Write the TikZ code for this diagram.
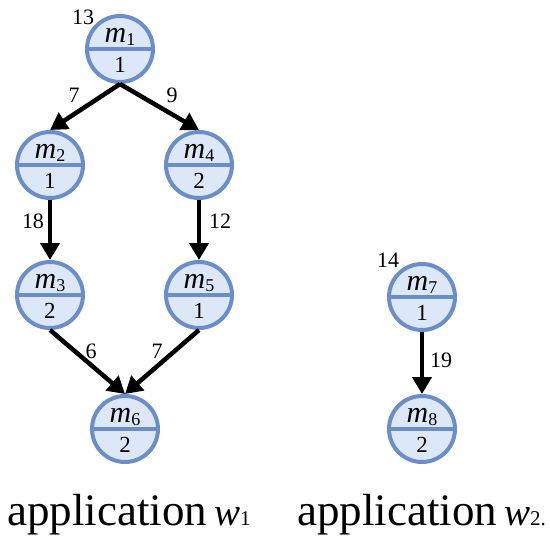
\documentclass[tikz,border=0pt]{standalone}
\usepackage{fontspec}
\setmainfont{Liberation Serif}
\usetikzlibrary{arrows.meta}
\definecolor{nodeline}{RGB}{108,142,200}
\definecolor{nodefill}{RGB}{220,231,247}
\tikzset{
  task/.style={circle, draw=nodeline, fill=nodefill, line width=4pt, minimum size=66pt, inner sep=0pt},
  divider/.style={draw=nodeline, line width=4pt},
  namelbl/.style={font=\fontsize{30}{30}\selectfont, inner sep=0pt, anchor=base},
  numlbl/.style={font=\fontsize{23}{23}\selectfont, inner sep=0pt, anchor=base},
  wlbl/.style={font=\fontsize{22}{22}\selectfont, inner sep=0pt},
  dep/.style={line width=4.5pt, -{Triangle[length=17pt,width=19pt]}},
  caption/.style={font=\fontsize{45}{45}\selectfont, inner sep=0pt, anchor=base west},
}
\newcommand\appw[1]{application\hspace{7pt}{\fontsize{39}{39}\selectfont\itshape w}{\fontsize{21}{21}\selectfont #1}}
\begin{document}
\begin{tikzpicture}[x=1pt,y=-1pt]
\useasboundingbox (0,0) rectangle (550,547);
\foreach \n/\x/\y/\w in {1/120/49/1, 2/50/165/1, 4/199/165/2, 3/50/295/2, 5/199/295/1, 6/125/429/2, 7/422/297/1, 8/422/429/2}{
  \node[task] (m\n) at (\x,\y) {};
  \draw[divider] (m\n.west) -- (m\n.east);
  \node[namelbl] (m\n name) at ([yshift=7pt]m\n.center) {\itshape m\raisebox{-3pt}{\fontsize{18}{18}\selectfont\upshape\n}};
  \node[numlbl] (m\n num) at ([yshift=-23pt]m\n.center) {\w};
}
\draw[dep] (m1.south) -- (m2.north);
\draw[dep] (m1.south) -- (m4.north);
\draw[dep] (m2.south) -- (m3.north);
\draw[dep] (m4.south) -- (m5.north);
\draw[dep] (m3.south) -- (m6.north);
\draw[dep] (m5.south) -- (m6.north);
\draw[dep] (m7.south) -- (m8.north);
\node[wlbl] (w1) at (83,17) {13};
\node[wlbl] (w12) at (74,95) {7};
\node[wlbl] (w14) at (172,95) {9};
\node[wlbl] (w23) at (33,221) {18};
\node[wlbl] (w45) at (220,221) {12};
\node[wlbl] (w36) at (91,351) {6};
\node[wlbl] (w56) at (157,351) {7};
\node[wlbl] (w7) at (388,260) {14};
\node[wlbl] (w78) at (441,360) {19};
\node[caption] (c1) at (7,525) {\appw{1}};
\node[caption] (c2) at (297,525) {\appw{2.}};
\end{tikzpicture}
\end{document}
